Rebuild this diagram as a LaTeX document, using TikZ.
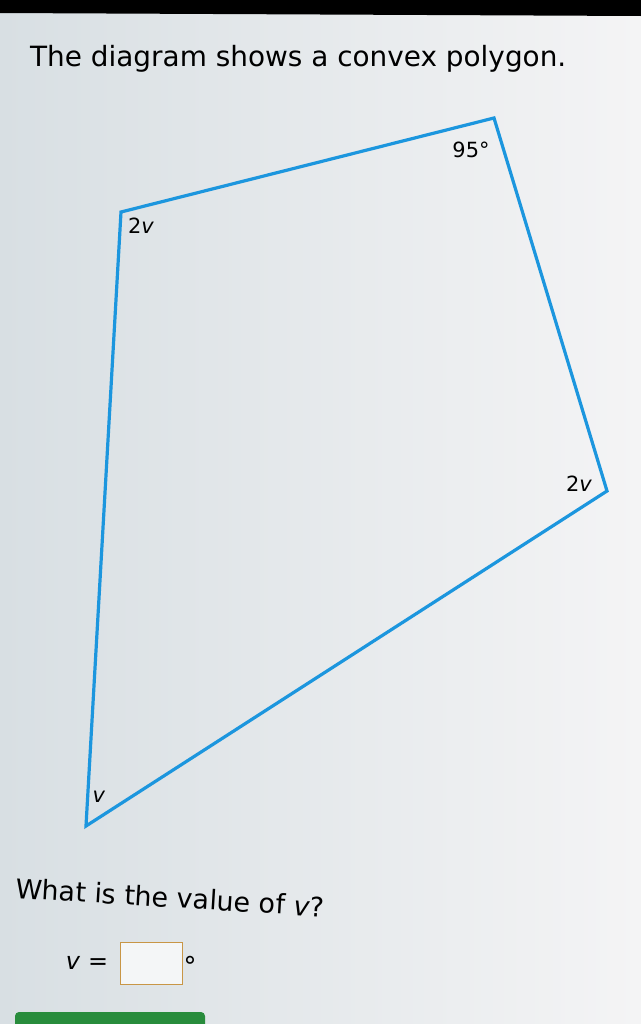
\documentclass[tikz,border=0pt]{standalone}
\usepackage{fontspec}
\setmainfont{DejaVu Sans}
\begin{document}
\begin{tikzpicture}[x=1bp,y=-1bp,
  edge/.style={draw=polyblue,line width=3.2bp,line join=miter},
  anglelabel/.style={font=\fontsize{21}{24}\selectfont,text=black,inner sep=0pt},
  title/.style={font=\fontsize{28}{32}\selectfont,anchor=base west,inner sep=0pt},
  question/.style={font=\fontsize{27}{31}\selectfont,anchor=base west,inner sep=0pt}]
\definecolor{polyblue}{RGB}{28,150,222}
\definecolor{bgleft}{RGB}{216,223,227}
\definecolor{bgmid}{RGB}{238,240,241}
\definecolor{bgright}{RGB}{244,244,245}
\definecolor{bgcol}{RGB}{233,237,239}
\definecolor{boxcol}{RGB}{200,150,70}
\definecolor{btngreen}{RGB}{40,140,60}
\useasboundingbox (0,0) rectangle (641,1024);
\shade[left color=bgleft,middle color=bgmid,right color=bgright] (0,0) rectangle (641,1024);
\fill[black] (0,0) -- (641,0) -- (641,16) -- (0,13) -- cycle;
\fill[btngreen,rounded corners=4bp] (15,1012) rectangle (205,1034);
\node[title] (t) at (30,66) {The diagram shows a convex polygon.};
\coordinate (A) at (121,212);
\coordinate (B) at (494,118);
\coordinate (C) at (607,491);
\coordinate (D) at (86,826);
\draw[edge] (A) -- (B) -- (C) -- (D) -- cycle;
\node[anglelabel] (la) at (141,226) {2\textit{v}};
\node[anglelabel] (lb) at (471,150) {95°};
\node[anglelabel] (lc) at (579,484) {2\textit{v}};
\node[anglelabel] (ld) at (99,797) {\textit{v}};
\node[question,rotate=-3.5] (q) at (15,898) {What is the value of \textit{v}?};
\node[font=\fontsize{24}{28}\selectfont,inner sep=0pt] (veq) at (87,963) {\textit{v} =};
\node[draw=boxcol,line width=1.6bp,fill=bgcol!50!white,minimum width=62bp,minimum height=42bp,inner sep=0pt] (box) at (151.5,963.5) {};
\node[font=\fontsize{26}{28}\selectfont,inner sep=0pt,anchor=north] (deg) at (190,956) {°};
\end{tikzpicture}
\end{document}
